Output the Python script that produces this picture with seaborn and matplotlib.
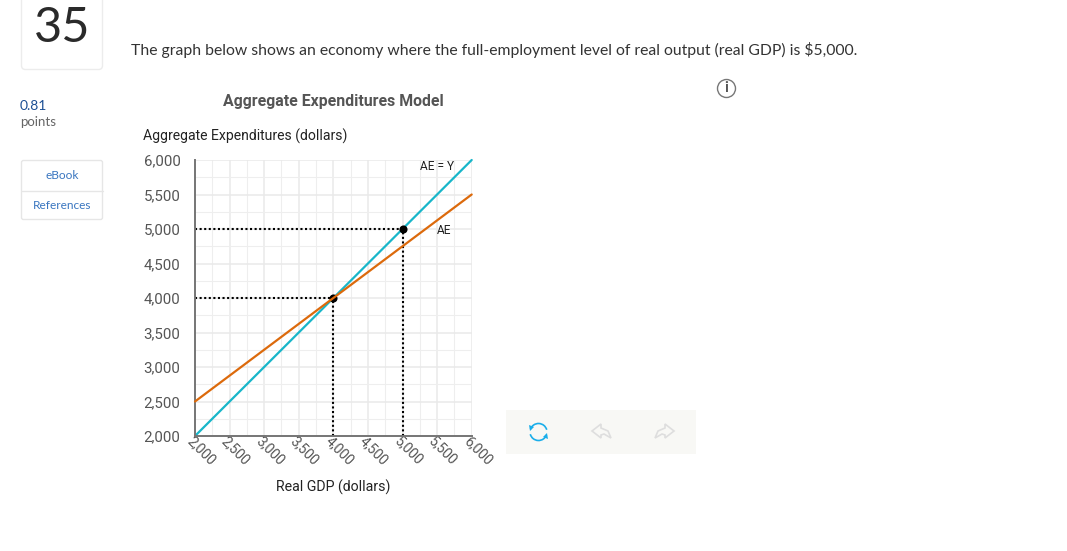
import numpy as np
import pandas as pd
import matplotlib
matplotlib.use('Agg')
import matplotlib.pyplot as plt
from matplotlib.patches import FancyBboxPatch, Rectangle, Circle, Arc, Polygon
from matplotlib.ticker import FuncFormatter, MultipleLocator
from matplotlib.transforms import ScaledTranslation
import seaborn as sns

# chart values
gdp = [2000, 6000]
ae_equals_y = [2000, 6000]
ae = [2500, 5500]
point_x = [4000, 5000]
point_y = [4000, 5000]
tick_values = [2000, 2500, 3000, 3500, 4000, 4500, 5000, 5500, 6000]

sns.set_theme(style="white")
plt.rcParams['font.family'] = ['Roboto', 'DejaVu Sans']

fig = plt.figure(figsize=(10.67, 5.51), dpi=100, facecolor='white')

# page around the chart, in pixels
page = fig.add_axes([0, 0, 1, 1])
page.set_xlim(0, 1067)
page.set_ylim(551, 0)
page.axis('off')

ui_font = ['Lato', 'DejaVu Sans']
page.add_patch(FancyBboxPatch((21.5, -10), 81, 79.5, boxstyle='round,pad=0,rounding_size=4',
                              fc='white', ec='#ececec', lw=1))
page.text(62, 28, '35', fontsize=35, color='#2a2a2a', family=ui_font, ha='center', va='center')
page.text(20, 105.5, '0.81', fontsize=10, color='#1c4f94', family=ui_font, va='center')
page.text(20.5, 122, 'points', fontsize=9.5, color='#666666', family=ui_font, va='center')
page.add_patch(FancyBboxPatch((21.5, 160.5), 81, 59, boxstyle='round,pad=0,rounding_size=2',
                              fc='white', ec='#e6e6e6', lw=1))
page.plot([21.5, 102.5], [190.5, 190.5], color='#e6e6e6', lw=1)
page.text(62, 175.5, 'eBook', fontsize=8.6, color='#3a76c0', family=ui_font, ha='center', va='center')
page.text(62, 205.5, 'References', fontsize=8.6, color='#3a76c0', family=ui_font, ha='center', va='center')
page.text(131, 50, 'The graph below shows an economy where the full-employment level of real output (real GDP) is \\$5,000.',
          fontsize=11.39, color='#333333', family=ui_font, va='center')

# info icon
page.add_patch(Circle((726.5, 88.5), 9, fc='white', ec='#777777', lw=1))
page.text(726.5, 88.5, 'i', fontsize=11, fontweight='bold', color='#555555', family=ui_font, ha='center', va='center')

# toolbar under the reset / undo / redo buttons
page.add_patch(Rectangle((506, 410), 190, 44, fc='#f8f8f5', ec='none'))
page.add_patch(Arc((538.5, 432), 17, 17, theta1=20, theta2=165, color='#1aaeea', lw=1.2))
page.add_patch(Arc((538.5, 432), 17, 17, theta1=200, theta2=345, color='#1aaeea', lw=1.2))
page.add_patch(Polygon([(529, 425), (534, 427), (530, 431)], fc='#1aaeea', ec='none'))
page.add_patch(Polygon([(548, 439), (543, 437), (547, 433)], fc='#1aaeea', ec='none'))
page.add_patch(Polygon([(592, 431), (601, 424), (601, 428), (608, 431), (611, 438), (604, 434), (601, 435), (601, 438)],
                       fc='#f8f8f5', ec='#dedede', lw=1.2))
page.add_patch(Polygon([(674, 431), (665, 424), (665, 428), (658, 431), (655, 438), (662, 434), (665, 435), (665, 438)],
                       fc='#f8f8f5', ec='#dedede', lw=1.2))

# chart axes
ax = fig.add_axes([195 / 1067, (551 - 436) / 551, 276.7 / 1067, 276 / 551])
ax.patch.set_alpha(0)

# dotted guides go under the curves
for x, y in zip(point_x, point_y):
    ax.plot([gdp[0], x], [y, y], color='black', lw=1.5, ls=(0, (1, 1.2)), zorder=2)
    ax.plot([x, x], [gdp[0], y], color='black', lw=1.5, ls=(0, (1, 1.2)), zorder=2)

# dots sit on the blue line but under the orange one
sns.lineplot(x=gdp, y=ae_equals_y, color='#18b6c9', lw=1.6, ax=ax, zorder=2.5, clip_on=False)
sns.scatterplot(x=point_x, y=point_y, color='black', s=34, linewidth=0, ax=ax, zorder=3, clip_on=False)
sns.lineplot(x=gdp, y=ae, color='#dc6a0c', lw=1.6, ax=ax, zorder=4, clip_on=False)

ax.set_xlim(gdp[0], gdp[1])
ax.set_ylim(gdp[0], gdp[1])
ax.set_xticks(tick_values)
ax.set_yticks(tick_values)
ax.xaxis.set_minor_locator(MultipleLocator(250))
ax.yaxis.set_minor_locator(MultipleLocator(250))
ax.grid(which='major', color='#e9e9e9', lw=1.1)
ax.grid(which='minor', color='#eeeeee', lw=0.8)
ax.set_axisbelow(True)

fmt = FuncFormatter(lambda v, _: f'{int(v):,}')
ax.xaxis.set_major_formatter(fmt)
ax.yaxis.set_major_formatter(fmt)
ax.tick_params(which='both', length=0)
ax.tick_params(axis='y', labelsize=10.8, labelcolor='#555555', pad=10.5)
ax.tick_params(axis='x', labelsize=10, labelcolor='#555555', pad=1)
# x labels hang down to the right, centred a little right of their tick
shift = ScaledTranslation(6 / 100, -14 / 100, fig.dpi_scale_trans)
for lab in ax.get_xticklabels():
    lab.set_rotation(-45)
    lab.set_rotation_mode('anchor')
    lab.set_ha('center')
    lab.set_va('center')
    lab.set_transform(lab.get_transform() + shift)

for side in ['top', 'right']:
    ax.spines[side].set_visible(False)
for side in ['left', 'bottom']:
    ax.spines[side].set_color('#757575')
    ax.spines[side].set_linewidth(1.4)

ax.set_xlabel('')
ax.set_ylabel('')
ax.text(5500, 5905, 'AE = Y', fontsize=8.6, color='#222222', ha='center', va='center')
ax.text(5600, 4985, 'AE', fontsize=8.6, color='#222222', ha='center', va='center')

# chart titles, placed like the page does
page.text(333, 101.5, 'Aggregate Expenditures Model', fontsize=11.4, fontweight='bold', color='#555555',
          ha='center', va='center')
page.text(143, 136, 'Aggregate Expenditures (dollars)', fontsize=10.1, color='#222222', va='center')
page.text(333, 487, 'Real GDP (dollars)', fontsize=10.15, color='#222222', ha='center', va='center')

fig.savefig('out.png', dpi=100)
